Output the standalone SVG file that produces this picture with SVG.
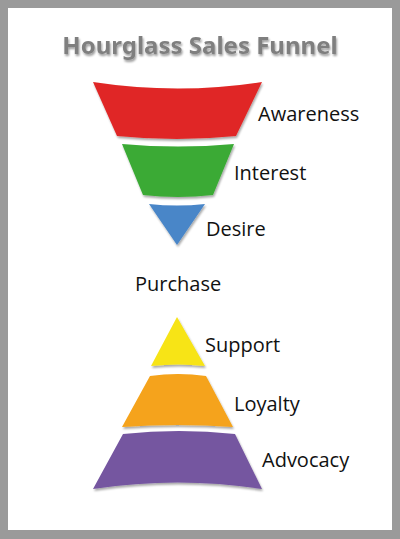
<svg xmlns="http://www.w3.org/2000/svg" width="400" height="539" viewBox="0 0 400 539">
<defs>
<filter id="sh" x="-20%" y="-20%" width="140%" height="140%">
<feGaussianBlur in="SourceAlpha" stdDeviation="1.2"/>
<feOffset dx="1" dy="1.5" result="b"/>
<feComponentTransfer><feFuncA type="linear" slope="0.35"/></feComponentTransfer>
<feMerge><feMergeNode/><feMergeNode in="SourceGraphic"/></feMerge>
</filter>
<filter id="tsh" x="-10%" y="-30%" width="120%" height="160%">
<feGaussianBlur in="SourceAlpha" stdDeviation="1"/>
<feOffset dx="1" dy="1.5" result="b"/>
<feComponentTransfer><feFuncA type="linear" slope="0.4"/></feComponentTransfer>
<feMerge><feMergeNode/><feMergeNode in="SourceGraphic"/></feMerge>
</filter>
</defs>
<style>
.lbl{font-family:"Open Sans","Noto Sans","Liberation Sans",sans-serif;font-size:20px;fill:#111;}
.title{font-family:"Noto Sans","Open Sans","Liberation Sans",sans-serif;font-size:24px;font-weight:bold;fill:#7f7f7f;}
.seg{filter:url(#sh);}
</style>
<rect x="0" y="0" width="400" height="539" fill="#9a9a9a"/>
<rect x="8" y="8" width="384" height="522" fill="#ffffff"/>
<text class="title" x="200" y="54" text-anchor="middle" filter="url(#tsh)">Hourglass Sales Funnel</text>
<g id="connectors"></g>
<g id="awareness">
<path class="seg" d="M93,82 Q178,95 262,82 L236,136 Q177,142 117,136 Z" fill="#e02826"/>
<text class="lbl" x="258" y="121">Awareness</text>
</g>
<g id="interest">
<path class="seg" d="M122,144 Q178,149 234,144 L213,195 Q178,199 143,195 Z" fill="#3aaa35"/>
<text class="lbl" x="234" y="180">Interest</text>
</g>
<g id="desire">
<path class="seg" d="M149,204 Q177,207 205,204 L177,245 Z" fill="#4a86c8"/>
<text class="lbl" x="206" y="236">Desire</text>
</g>
<g id="purchase">
<text class="lbl" x="135" y="291">Purchase</text>
</g>
<g id="support">
<path class="seg" d="M177,317 L205,366 Q178,363 151,366 Z" fill="#f7e418"/>
<text class="lbl" x="205" y="352">Support</text>
</g>
<g id="loyalty">
<path class="seg" d="M150,376 Q178,372 206,376 L233,427 Q178,423 122,427 Z" fill="#f5a31a"/>
<text class="lbl" x="234" y="411">Loyalty</text>
</g>
<g id="advocacy">
<path class="seg" d="M123,434 Q179,428 235,434 L262,489 Q178,476 93,489 Z" fill="#7556a0"/>
<text class="lbl" x="262" y="467">Advocacy</text>
</g>
</svg>
